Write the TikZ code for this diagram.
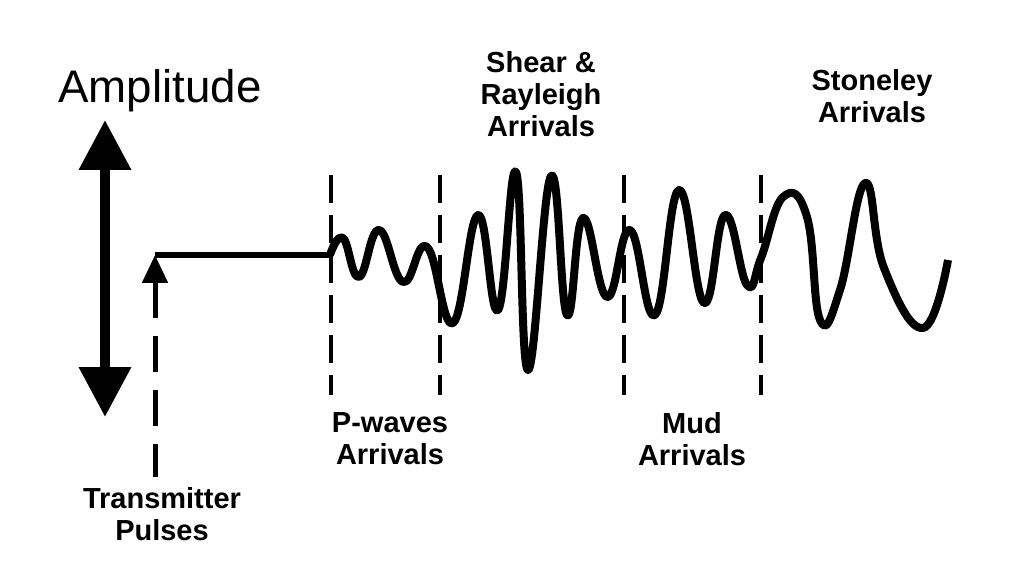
\documentclass[tikz,border=0pt]{standalone}
\usepackage{fontspec}
\setmainfont{Liberation Sans}
\usetikzlibrary{arrows.meta}
\begin{document}
\begin{tikzpicture}[x=0.02cm, y=-0.02cm,
  label node/.style={align=center,inner sep=0pt,font=\fontsize{16.5}{18.2}\selectfont\bfseries},
  marker/.style={line width=0.08cm,dash pattern=on 0.56cm off 0.24cm},
  wave/.style={line width=0.16cm,line join=round}]
\useasboundingbox (0,0) rectangle (1024,564);
\begin{scope}[every node/.style={label node}]
\node (shear) at (541,94) {Shear \&\\Rayleigh\\Arrivals};
\node (stoneley) at (872,96) {Stoneley\\Arrivals};
\node (pwaves) at (390,439) {P-waves\\Arrivals};
\node (mud) at (692,439) {Mud\\Arrivals};
\node (pulses) at (162,514) {Transmitter\\Pulses};
\end{scope}
\node[inner sep=0pt,anchor=base,font=\fontsize{26}{30}\selectfont] (amp) at (160,103) {Amplitude};
%\node (x) at (,) {};
\coordinate (amptop) at (105,120);
\coordinate (ampbot) at (105,417);
\coordinate (pulsetip) at (155,255);
\coordinate (pulsebot) at (155,477);
\coordinate (wavestart) at (330,255);
\coordinate (d1t) at (331,175); \coordinate (d1b) at (331,395);
\coordinate (d2t) at (440,175); \coordinate (d2b) at (440,395);
\coordinate (d3t) at (624,175); \coordinate (d3b) at (624,395);
\coordinate (d4t) at (761,175); \coordinate (d4b) at (761,395);
\begin{scope}
\draw[line width=0.2cm,{Triangle[width=1cm,length=1cm]}-{Triangle[width=1cm,length=1cm]}] (amptop) -- (ampbot);
\draw[line width=0.1cm,dash pattern=on 0.72cm off 0.36cm,{Triangle[width=0.5cm,length=0.56cm]}-] (pulsetip) -- (pulsebot);
\draw[line width=0.12cm] (pulsetip) -- (wavestart);
\draw[marker] (d1t) -- (d1b);
\draw[marker] (d2t) -- (d2b);
\draw[marker] (d3t) -- (d3b);
\draw[marker] (d4t) -- (d4b);
\end{scope}
\draw[wave] plot[smooth,tension=0.75] coordinates {(330,255) (343,238) (359,277) (379,230) (403,282) (427,247) (453,323) (478,215) (498,310) (516,172) (528,370) (551,176) (567,315) (583,218) (607,297) (630,230) (655,315) (679,190) (704,303) (725,215) (747,285) (761,258) (783,197) (807,217) (820,320) (840,290) (865,183) (884,268) (923,328) (948,260)};
\end{tikzpicture}
\end{document}
